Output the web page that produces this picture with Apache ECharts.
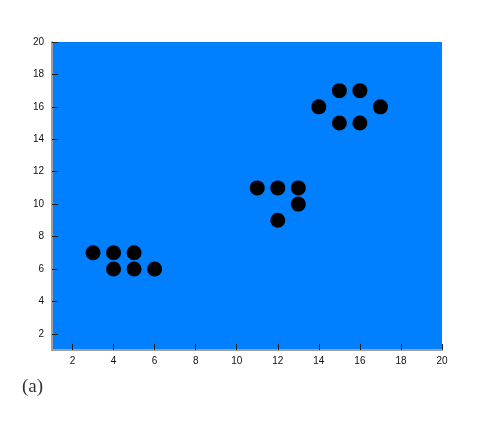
<!DOCTYPE html>
<html>
<head>
<meta charset="utf-8">
<script src="https://cdn.jsdelivr.net/npm/echarts@6/dist/echarts.min.js"></script>
<style>
  html, body { margin: 0; padding: 0; background: #fff; }
  #chart { width: 492px; height: 427px; }
</style>
</head>
<body>
<div id="chart"></div>
<script>
// tick labels on both axes
const tickValues = [2, 4, 6, 8, 10, 12, 14, 16, 18, 20];

// three clusters of points, [x, y]
const clusterA = [[3, 7], [4, 7], [5, 7], [4, 6], [5, 6], [6, 6]];
const clusterB = [[11, 11], [12, 11], [13, 11], [13, 10], [12, 9]];
const clusterC = [[15, 17], [16, 17], [14, 16], [17, 16], [15, 15], [16, 15]];

const chart = echarts.init(document.getElementById('chart'));

const axisCommon = {
    type: 'value',
    min: 1,
    max: 20,
    splitLine: { show: false },
    axisLine: { show: true, lineStyle: { color: '#a0a0a0', width: 2 } },
    axisTick: {
        show: true,
        inside: true,
        length: 6,
        customValues: tickValues,
        lineStyle: { color: '#222', width: 1 }
    },
    axisLabel: {
        customValues: tickValues,
        color: '#111',
        fontSize: 10,
        fontFamily: 'Liberation Sans, Arial, sans-serif'
    }
};

chart.setOption({
    animation: false,
    grid: { left: 52, top: 42, right: 50, bottom: 77, show: true, backgroundColor: '#0080ff', borderWidth: 0 },
    xAxis: Object.assign({}, axisCommon, { axisLabel: Object.assign({}, axisCommon.axisLabel, { margin: 6 }) }),
    yAxis: Object.assign({}, axisCommon, { axisLabel: Object.assign({}, axisCommon.axisLabel, { margin: 8 }) }),
    graphic: [{
        type: 'text',
        left: 22,
        top: 378,
        style: { text: '(a)', fontSize: 19, fontFamily: 'Liberation Serif, Times New Roman, serif', fill: '#333' }
    }],
    series: [clusterA, clusterB, clusterC].map(d => ({
        type: 'scatter',
        data: d,
        symbolSize: 15,
        itemStyle: { color: '#000', opacity: 1 }
    }))
});
</script>
</body>
</html>
